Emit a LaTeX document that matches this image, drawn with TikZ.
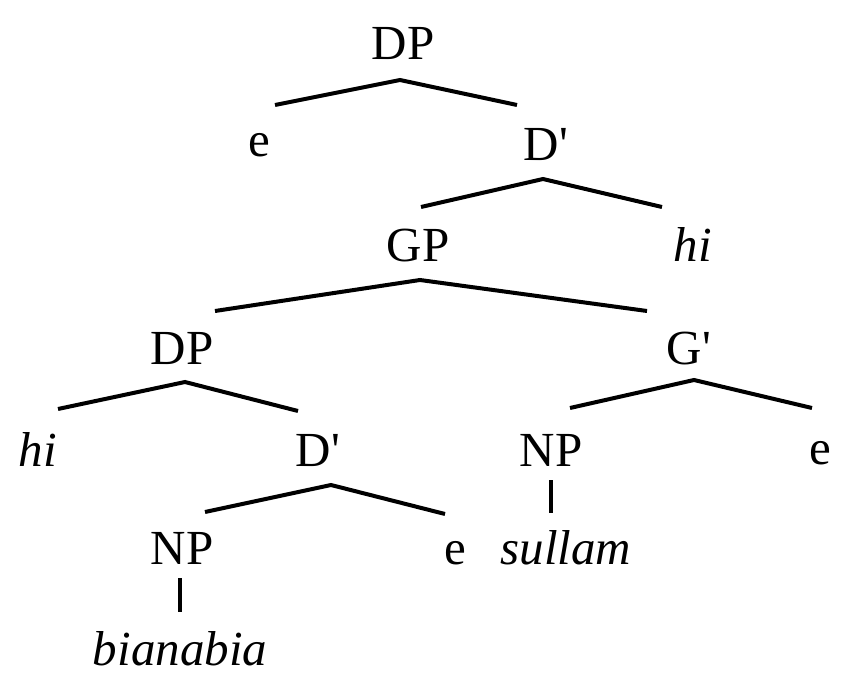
\documentclass[tikz,border=0pt]{standalone}
\usepackage{fontspec}
\newfontfamily\treefont{Liberation Serif}
\usepackage{tikz}

\begin{document}
\begin{tikzpicture}[x=1pt,y=-1pt]
   \tikzstyle{every node}=[font=\treefont\fontsize{49}{58}\selectfont, anchor=base, inner sep=0pt]
   \tikzstyle{treeline}=[line width=4pt, line cap=butt]
   \tikzstyle{word}=[font=\treefont\itshape\fontsize{49}{58}\selectfont]
   \useasboundingbox (0,0) rectangle (852,687);

\node (dp1) at (403,60) {DP};
\node (e1) at (259,157) {e};
\node (dbar1) at (546,161) {D'};
\node (gp) at (418,262) {GP};
\node[word] (hi1) at (693,262) {hi};
\node (dp2) at (182,364) {DP};
\node (gbar) at (689,364) {G'};
\node[word] (hi2) at (38,466) {hi};
\node (dbar2) at (318,466) {D'};
\node (np1) at (551,466) {NP};
\node (e2) at (820,464) {e};
\node (np2) at (182,564) {NP};
\node (e3) at (455,564) {e};
\node[word] (sullam) at (566,564) {sullam};
\node[word] (bianabia) at (180,665) {bianabia};

% roofs
\coordinate (dp1-a) at (400,80);  \coordinate (dp1-l) at (275,105);  \coordinate (dp1-r) at (517,105);
\coordinate (dbar1-a) at (543,179); \coordinate (dbar1-l) at (421,207); \coordinate (dbar1-r) at (662,207);
\coordinate (gp-a) at (420,280);  \coordinate (gp-l) at (215,311);  \coordinate (gp-r) at (647,311);
\coordinate (dp2-a) at (185,382); \coordinate (dp2-l) at (58,409);  \coordinate (dp2-r) at (298,411);
\coordinate (gbar-a) at (694,380); \coordinate (gbar-l) at (570,408); \coordinate (gbar-r) at (812,408);
\coordinate (dbar2-a) at (331,485); \coordinate (dbar2-l) at (205,512); \coordinate (dbar2-r) at (445,514);
\coordinate (np1-t) at (551,480); \coordinate (np1-b) at (551,513);
\coordinate (np2-t) at (180,578); \coordinate (np2-b) at (180,612);

\draw[treeline] (dp1-l) -- (dp1-a) -- (dp1-r);
\draw[treeline] (dbar1-l) -- (dbar1-a) -- (dbar1-r);
\draw[treeline] (gp-l) -- (gp-a) -- (gp-r);
\draw[treeline] (dp2-l) -- (dp2-a) -- (dp2-r);
\draw[treeline] (gbar-l) -- (gbar-a) -- (gbar-r);
\draw[treeline] (dbar2-l) -- (dbar2-a) -- (dbar2-r);
\draw[treeline] (np1-t) -- (np1-b);
\draw[treeline] (np2-t) -- (np2-b);

\end{tikzpicture}
\end{document}
